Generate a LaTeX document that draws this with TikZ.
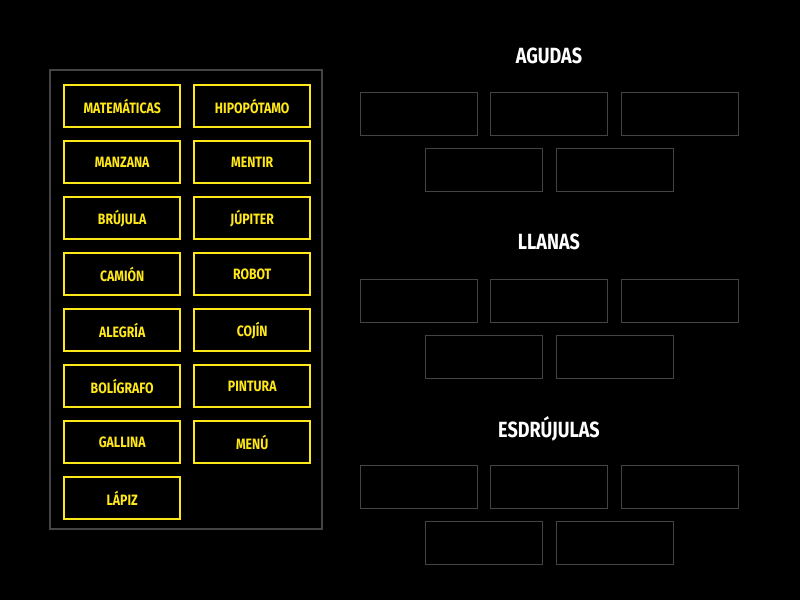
\documentclass[tikz,border=0pt]{standalone}
\usepackage{fontspec}
\setmainfont{Fira Sans}[FakeStretch=0.82]
\definecolor{yel}{HTML}{FFE81A}
\definecolor{gr}{HTML}{444444}
\begin{document}
\begin{tikzpicture}[x=1pt,y=-1pt,
 word/.style={draw=yel,line width=2.4pt,minimum width=116pt,minimum height=42pt,text=yel,font=\bfseries\fontsize{15}{15}\selectfont,anchor=north west,inner sep=0},
 slot/.style={draw=gr,line width=1.2pt,minimum width=117pt,minimum height=43pt,anchor=north west},
 ttl/.style={text=white,font=\bfseries\fontsize{22}{22}\selectfont}]
\fill[black] (0,0) rectangle (800,600);
\useasboundingbox (0,0) rectangle (800,600);
\draw[gr,line width=1.2pt] (50,70) rectangle (322,529);
\foreach \t/\c/\r [count=\i] in {MATEMÁTICAS/0/0,HIPOPÓTAMO/1/0,MANZANA/0/1,MENTIR/1/1,BRÚJULA/0/2,JÚPITER/1/2,CAMIÓN/0/3,ROBOT/1/3,ALEGRÍA/0/4,COJÍN/1/4,BOLÍGRAFO/0/5,PINTURA/1/5,GALLINA/0/6,MENÚ/1/6,LÁPIZ/0/7}
  \node[word] (w\i) at ({63+130*\c},{84+56*\r}) {\t};
\node[ttl] (t1) at (549,56) {AGUDAS};
\node[ttl] (t2) at (549,242) {LLANAS};
\node[ttl] (t3) at (549,429) {ESDRÚJULAS};
\foreach \y [count=\k] in {92,279,465}{
  \node[slot] (s\k a) at (360,\y) {};
  \node[slot] (s\k b) at (490,\y) {};
  \node[slot] (s\k c) at (621,\y) {};
  \node[slot] (s\k d) at (425,\y+56) {};
  \node[slot] (s\k e) at (556,\y+56) {};
}
\end{tikzpicture}
\end{document}
